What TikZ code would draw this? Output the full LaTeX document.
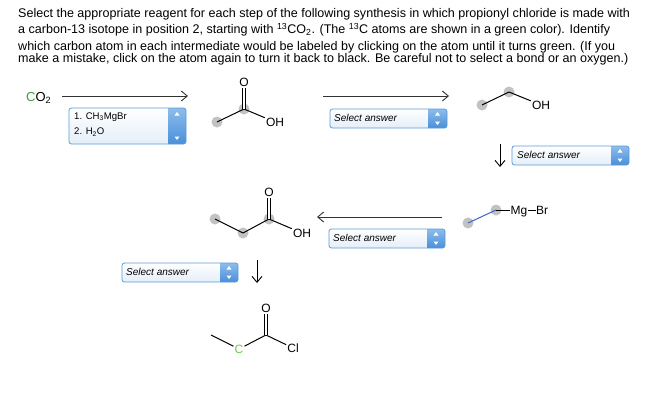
\documentclass[tikz,border=0pt]{standalone}
\usepackage{fontspec}
\setmainfont{Liberation Sans}
\usetikzlibrary{arrows.meta}
\definecolor{boxblue}{HTML}{5B9BD8}
\definecolor{boxpale}{HTML}{E4EEF9}
\definecolor{barlight}{HTML}{8DBDEC}
\definecolor{bardark}{HTML}{4A8FD9}
\definecolor{atomgray}{HTML}{C2C2C2}
\definecolor{labelgreen}{HTML}{3F9C3F}
\definecolor{markgreen}{HTML}{6CCB4A}
\definecolor{bondblue}{HTML}{3A66C8}
\definecolor{inkgray}{HTML}{333333}
\tikzset{
  >={Straight Barb[length=6pt,width=10pt,line width=0.9pt]},
  question/.style={anchor=base west,inner sep=0pt,font=\fontsize{12.55}{14}\selectfont},
  atom/.style={circle,fill=atomgray,inner sep=0pt,minimum size=11pt},
  label/.style={inner sep=1pt,text height=8.6pt,text depth=0pt,font=\fontsize{12}{14}\selectfont},
  bond/.style={line width=1pt,black},
  dbond/.style={double,double distance=1.8pt,line width=0.8pt,black},
  reaction/.style={->,line width=0.9pt,inkgray},
  down/.style={->,line width=1pt,black},
  answer/.style={anchor=west,inner sep=0pt,font=\fontsize{9.6}{12}\selectfont},
  prompt/.style={answer,font=\fontsize{10}{12}\selectfont\itshape},
}
% drop-down box: left, top, right, bottom, left edge of the bar
\newcommand{\answerbox}[5]{
  \path[top color=white,bottom color=boxpale,rounded corners=2.5pt] (#1,#2) rectangle (#3,#4);
  \path[top color=barlight,bottom color=bardark] (#5,#2) [rounded corners=2.5pt] -- (#3,#2) -- (#3,#4) [sharp corners] -- (#5,#4) -- cycle;
  \draw[boxblue,line width=0.8pt,rounded corners=2.5pt] (#1,#2) rectangle (#3,#4);
}
% small white triangles in the bar: centre x, y of upper tip, y of lower tip
\newcommand{\updown}[3]{
  \fill[white] (#1-2.5,#2+3.5) -- (#1+2.5,#2+3.5) -- (#1,#2) -- cycle;
  \fill[white] (#1-2.5,#3-3.5) -- (#1+2.5,#3-3.5) -- (#1,#3) -- cycle;
}
\begin{document}
\begin{tikzpicture}[x=1pt,y=-1pt]
\fill[white] (0,0) rectangle (648,407);
\useasboundingbox (0,0) rectangle (648,407);
% question text
\node[question] (line1) at (18,17.5) {Select the appropriate reagent for each step of the following synthesis in which propionyl chloride is made with};
\node[question] (line2) at (18,33.5) {a carbon-13 isotope in position 2, starting with \textsuperscript{13}CO\textsubscript{2}. (The \textsuperscript{13}C atoms are shown in a green color). Identify};
\node[question] (line3) at (18,50) {which carbon atom in each intermediate would be labeled by clicking on the atom until it turns green. (If you};
\node[question] (line4) at (18,62) {make a mistake, click on the atom again to turn it back to black. Be careful not to select a bond or an oxygen.)};
% first step
\node[anchor=west,inner sep=1pt,font=\fontsize{13}{15}\selectfont] (co2) at (25,98) {\textcolor{labelgreen}{C}O\textsubscript{2}};
\coordinate (a1s) at (62,96);
\coordinate (a1e) at (188,96);
\draw[reaction] (a1s) -- (a1e);
\answerbox{69}{108}{186}{144}{168}
\updown{177}{112}{140}
\node[answer] (r1) at (74,117) {1. CH\textsubscript{3}MgBr};
\node[answer] (r2) at (74,132) {2. H\textsubscript{2}O};
\node[atom] (m1a) at (217,122) {};
\node[atom] (m1b) at (244,109) {};
\node[label] (m1o) at (244,82) {O};
\node[label] (m1h) at (275,122) {OH};
\draw[bond] (m1a.center) -- (m1b.center);
\draw[bond] (m1b.center) -- (m1h);
\draw[dbond] (m1b.center) -- (m1o);
% second step
\coordinate (a2s) at (323,96);
\coordinate (a2e) at (449,96);
\draw[reaction] (a2s) -- (a2e);
\answerbox{330}{109}{447}{128}{428}
\updown{437.5}{112}{125}
\node[prompt] (t2) at (334,117.5) {Select answer};
\node[atom] (m2a) at (482,105) {};
\node[atom] (m2b) at (509,92) {};
\node[label] (m2h) at (541,105) {OH};
\draw[bond] (m2a.center) -- (m2b.center);
\draw[bond] (m2b.center) -- (m2h);
% third step
\coordinate (a3s) at (500,144);
\coordinate (a3e) at (500,167);
\draw[down] (a3s) -- (a3e);
\answerbox{512}{146}{629}{165}{611}
\updown{620}{149}{162}
\node[prompt] (t3) at (517,154.5) {Select answer};
\node[atom] (m3a) at (468,223) {};
\node[atom] (m3b) at (496,210) {};
\node[label,inner sep=0pt] (m3m) at (519,210) {Mg};
\node[label,inner sep=0pt] (m3r) at (542,210) {Br};
\draw[line width=1pt,bondblue] (m3a.center) -- (m3b.center);
\draw[bond] (m3b.center) -- (m3m);
\draw[bond] (m3m) -- (m3r);
% fourth step
\coordinate (a4s) at (442,217);
\coordinate (a4e) at (317,217);
\draw[reaction] (a4s) -- (a4e);
\answerbox{329}{229}{445}{248}{427}
\updown{436}{232}{245}
\node[prompt] (t4) at (333,237.5) {Select answer};
\node[atom] (m4a) at (215,219) {};
\node[atom] (m4b) at (243,233) {};
\node[atom] (m4c) at (269,219) {};
\node[label] (m4o) at (269,192) {O};
\node[label] (m4h) at (302,233) {OH};
\draw[bond] (m4a.center) -- (m4b.center);
\draw[bond] (m4b.center) -- (m4c.center);
\draw[bond] (m4c.center) -- (m4h);
\draw[dbond] (m4c.center) -- (m4o);
% fifth step
\answerbox{122}{263}{238}{282}{220}
\updown{229}{266}{279}
\node[prompt] (t5) at (126,271.5) {Select answer};
\coordinate (a5s) at (257,260);
\coordinate (a5e) at (257,283);
\draw[down] (a5s) -- (a5e);
\coordinate (m5a) at (211,335);
\node[label,text=markgreen] (m5b) at (239,349) {C};
\coordinate (m5c) at (266,335);
\node[label] (m5o) at (266,308) {O};
\node[label] (m5l) at (293,348) {Cl};
\draw[bond] (m5a) -- (m5b);
\draw[bond] (m5b) -- (m5c);
\draw[bond] (m5c) -- (m5l);
\draw[dbond] (m5c) -- (m5o);
\end{tikzpicture}
\end{document}
